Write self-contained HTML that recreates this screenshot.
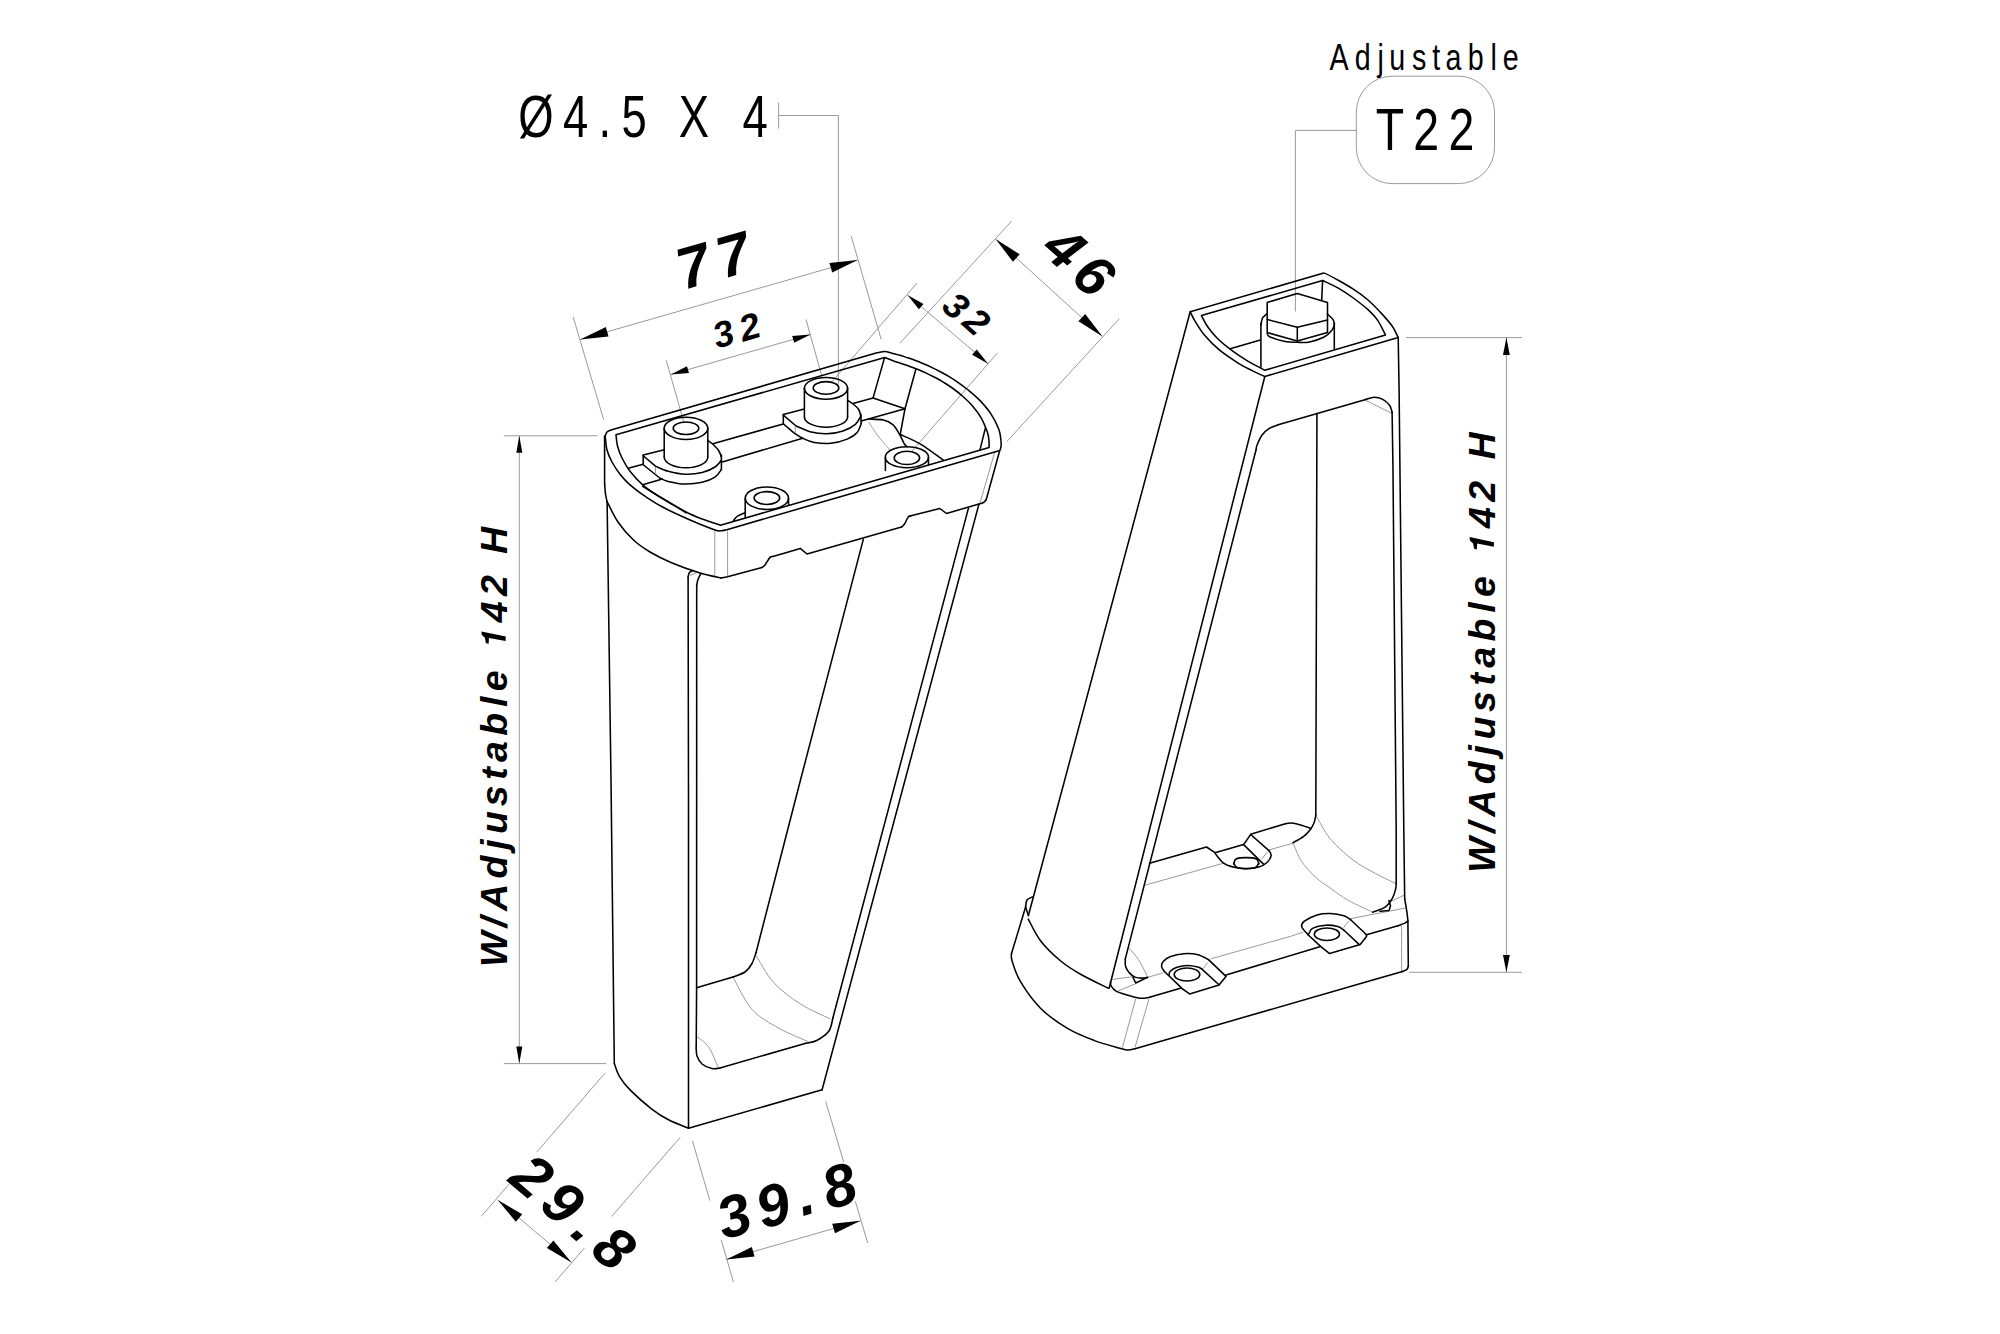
<!DOCTYPE html>
<html><head><meta charset="utf-8"><style>
html,body{margin:0;padding:0;background:#fff;width:2000px;height:1334px;overflow:hidden}
svg{display:block}
text{font-family:"Liberation Sans",sans-serif}
.k{fill:none;stroke:#000;stroke-width:1.55;stroke-linejoin:round;stroke-linecap:round}
.k1{fill:none;stroke:#000;stroke-width:1.5;stroke-linejoin:round;stroke-linecap:round}
.g{fill:none;stroke:#9a9a9a;stroke-width:1}
.f{fill:#000;stroke:none}
.w{fill:#fff;stroke:none}
</style></head><body>
<svg width="2000" height="1334" viewBox="0 0 2000 1334">
<path class="g" d="M994.6,452.6 L980.0,503.0"/>
<path class="g" d="M714.8,531.0 L714.8,576.8"/>
<path class="g" d="M727.6,531.0 L727.6,576.8"/>
<path class="g" d="M689.9,575.7 L696.2,572.8"/>
<path class="g" d="M733.0,977.0 C736.2,982.4 744.3,1000.9 752.0,1009.4 C759.7,1017.9 769.6,1022.9 779.0,1028.3 C788.4,1033.7 803.7,1039.5 808.6,1041.8"/>
<path class="g" d="M756.0,955.4 C758.9,959.9 766.1,974.3 773.5,982.4 C780.9,990.5 791.0,997.9 800.5,1004.0 C810.0,1010.1 825.2,1016.4 830.2,1018.9"/>
<path class="g" d="M696.6,1036.4 C698.6,1038.2 705.2,1042.0 708.8,1047.2 C712.4,1052.4 716.6,1064.1 718.2,1067.5"/>
<path class="g" d="M655.5,466.5 L655.5,473.0"/>
<path class="g" d="M795.2,426.5 L795.2,432.6"/>
<path class="g" d="M868.4,421.8 C870.1,424.3 875.1,432.1 878.7,436.8 C882.3,441.5 888.1,447.8 890.0,450.0"/>
<path class="g" d="M580.2,339.5 L857.7,260.0"/>
<path class="g" d="M573.2,317.0 L603.7,419.8"/>
<path class="g" d="M851.2,236.2 L881.2,339.4"/>
<path class="g" d="M670.7,374.5 L810.5,334.5"/>
<path class="g" d="M666.2,360.2 L683.7,421.7"/>
<path class="g" d="M806.0,319.5 L821.8,376.0"/>
<path class="g" d="M995.6,239.1 L1102.5,336.5"/>
<path class="g" d="M1011.5,221.2 L900.0,343.1"/>
<path class="g" d="M1119.3,318.7 L1006.9,441.5"/>
<path class="g" d="M907.5,294.9 L988.1,363.7"/>
<path class="g" d="M916.9,283.1 L831.5,382.3"/>
<path class="g" d="M997.5,352.9 L911.3,451.8"/>
<path class="g" d="M519.3,435.8 L519.3,1063.6"/>
<path class="g" d="M503.8,435.8 L597.6,435.8"/>
<path class="g" d="M503.8,1063.6 L606.3,1063.6"/>
<path class="g" d="M497.7,1199.9 L571.5,1262.4"/>
<path class="g" d="M605.3,1072.8 L481.3,1216.3"/>
<path class="g" d="M680.1,1137.4 L555.1,1281.9"/>
<path class="g" d="M726.3,1259.4 L860.5,1220.8"/>
<path class="g" d="M692.4,1140.5 L733.4,1281.9"/>
<path class="g" d="M825.7,1101.5 L867.7,1243.0"/>
<path class="g" d="M778.6,102.5 L778.6,128.6"/>
<path class="g" d="M778.6,115.5 L838.4,115.5 L838.4,384.5"/>
<path class="g" d="M1364.8,399.9 L1391.8,413.4"/>
<path class="g" d="M1135.7,998.8 L1122.1,1048.7"/>
<path class="g" d="M1149.0,998.8 L1135.0,1047.3"/>
<path class="g" d="M1143.8,885.5 L1223.6,863.2"/>
<path class="g" d="M1269.2,849.9 L1293.0,843.2"/>
<path class="g" d="M1261.6,859.4 L1267.3,851.8"/>
<path class="g" d="M1293.0,842.7 C1294.4,845.8 1297.7,855.5 1301.5,861.3 C1305.3,867.1 1311.0,873.0 1315.8,877.4 C1320.5,881.8 1324.5,884.0 1330.0,887.9 C1335.5,891.8 1341.4,896.5 1348.5,900.5 C1355.6,904.5 1368.8,910.2 1372.8,912.2"/>
<path class="g" d="M1316.7,816.6 C1318.9,820.2 1324.0,831.3 1330.0,838.5 C1336.0,845.7 1345.4,854.2 1353.0,860.0 C1360.6,865.8 1368.4,869.6 1375.5,873.5 C1382.6,877.4 1392.3,881.8 1395.7,883.4"/>
<path class="g" d="M1210.6,958.9 L1290.0,936.5 L1303.5,932.0"/>
<path class="g" d="M1349.4,918.9 L1405.2,908.1"/>
<path class="g" d="M1389.9,901.8 L1404.3,895.1"/>
<path class="g" d="M1401.6,925.7 L1401.6,971.1"/>
<path class="g" d="M1343.1,928.4 L1348.5,921.2"/>
<path class="g" d="M1111.2,979.5 L1132.9,976.7"/>
<path class="g" d="M1148.3,977.1 L1163.0,972.9"/>
<path class="g" d="M1117.5,991.1 L1136.4,983.4"/>
<path class="g" d="M1202.9,968.7 L1208.1,962.4"/>
<path class="g" d="M1128.0,947.0 C1129.8,949.1 1135.2,954.6 1138.5,959.6 C1141.8,964.6 1146.1,974.2 1147.6,977.1"/>
<path class="g" d="M1506.4,337.6 L1506.4,972.3"/>
<path class="g" d="M1406.0,337.6 L1522.0,337.6"/>
<path class="g" d="M1409.0,972.3 L1522.0,972.3"/>
<path class="g" d="M1295.4,311.5 L1295.4,130.4 L1356.3,130.4"/>
<rect class="g" x="1356.3" y="76.2" width="138.2" height="107.4" rx="36" ry="36"/>
<path class="w" d="M502.3,1177.5 L616.3,1275.0 L643.3,1243.4 L529.3,1145.9 Z"/>
<path class="w" d="M705.9,1201.8 L849.0,1160.6 L860.3,1200.0 L717.2,1241.2 Z"/>
<path class="k" d="M605.2,436.0 C605.5,435.3 606.0,433.0 607.0,432.0 C608.0,431.0 610.3,430.3 611.0,430.0 L877.0,352.8 C878.3,352.6 882.6,351.7 884.7,351.6 C886.8,351.5 887.0,351.8 889.4,352.4 C891.8,353.0 895.9,354.2 899.0,355.1 C902.1,356.0 904.9,356.9 907.8,357.8 C910.6,358.7 913.4,359.7 916.1,360.7 C918.8,361.7 921.4,362.9 924.1,364.0 C926.8,365.1 929.4,366.3 932.1,367.6 C934.8,368.9 937.6,370.3 940.4,371.8 C943.2,373.3 946.1,374.9 949.1,376.7 C952.1,378.5 955.3,380.5 958.6,382.8 C961.9,385.1 965.3,387.6 968.8,390.5 C972.3,393.4 976.2,396.6 979.8,400.4 C983.4,404.2 987.4,408.6 990.6,413.4 C993.8,418.2 997.1,424.9 998.8,429.3 C1000.5,433.7 1000.5,437.1 1000.9,440.0 C1001.3,442.9 1001.2,444.9 1001.0,446.6 C1000.8,448.4 1000.0,449.9 999.8,450.5 L726.0,529.9 C725.2,530.0 722.8,530.7 721.0,530.7 C719.2,530.7 720.2,531.7 715.0,529.9 C709.8,528.1 698.0,523.4 689.5,519.7 C681.0,516.0 671.1,511.5 664.0,507.8 C656.9,504.1 652.7,501.4 647.0,497.6 C641.3,493.8 634.5,488.7 630.0,484.8 C625.5,480.9 623.0,478.0 620.0,474.2 C617.0,470.4 614.2,466.0 612.0,462.0 C609.8,458.0 608.1,454.3 607.0,450.0 C605.9,445.7 605.5,438.3 605.2,436.0"/>
<path class="k" d="M616.0,434.7 L884.7,357.5 C886.2,358.1 890.7,360.0 893.6,361.0 C896.5,362.0 899.2,362.8 901.9,363.7 C904.6,364.6 907.3,365.5 910.0,366.5 C912.7,367.5 915.4,368.4 918.1,369.5 C920.8,370.6 923.5,371.8 926.3,373.1 C929.1,374.4 931.8,375.8 934.7,377.3 C937.6,378.8 940.6,380.4 943.6,382.3 C946.6,384.2 949.8,386.2 953.0,388.5 C956.2,390.8 959.5,393.4 962.7,396.3 C966.0,399.2 969.4,402.4 972.5,406.0 C975.6,409.6 978.8,413.7 981.3,418.1 C983.8,422.5 986.1,428.7 987.4,432.3 C988.7,435.9 988.6,437.4 988.9,440.0 C989.2,442.6 989.1,446.3 989.1,447.6 L720.5,525.2 C718.2,524.4 711.7,522.4 706.5,520.5 C701.3,518.6 695.2,516.4 689.5,513.7 C683.8,511.0 678.2,507.6 672.5,504.4 C666.8,501.1 660.5,497.5 655.5,494.2 C650.5,490.9 647.0,488.6 642.7,484.8 C638.5,481.0 633.5,475.7 630.0,471.2 C626.5,466.7 624.1,462.2 622.0,458.0 C619.9,453.8 618.5,449.9 617.5,446.0 C616.5,442.1 616.2,436.6 616.0,434.7"/>
<path class="k" d="M604.6,436.0 L604.6,483.7"/>
<path class="k" d="M604.6,483.7 C604.8,485.4 605.1,491.0 605.5,494.0 C605.9,497.0 606.8,500.3 607.1,501.6"/>
<path class="k" d="M607.1,501.6 L611.0,780.0 L614.3,1063.4"/>
<path class="k" d="M607.1,501.6 C608.9,505.0 613.6,515.6 618.0,522.0 C622.4,528.4 627.9,534.8 633.2,539.8 C638.5,544.8 643.6,548.2 650.0,552.0 C656.4,555.8 663.2,559.3 671.5,562.8 C679.8,566.3 691.7,570.5 700.0,573.0 C708.3,575.5 717.7,577.2 721.2,578.0"/>
<path class="k" d="M721.2,578.0 L727.6,576.8 L762.0,567.5"/>
<path class="k" d="M762.0,567.5 C762.5,567.1 763.7,566.7 765.0,565.0 C766.3,563.3 768.7,558.8 770.0,557.4 C771.3,556.0 772.5,556.6 773.0,556.4"/>
<path class="k" d="M773.0,556.4 L800.3,548.4 L807.0,554.0 L901.5,527.0"/>
<path class="k" d="M901.5,527.0 C902.0,526.5 903.4,525.7 904.5,524.0 C905.6,522.3 907.2,518.3 908.3,516.9 C909.4,515.5 910.5,516.0 911.0,515.8"/>
<path class="k" d="M911.0,515.8 L939.8,508.5 L946.5,513.5 L979.0,504.0"/>
<path class="k" d="M979.0,504.0 C979.8,503.8 982.3,503.2 983.5,502.5 C984.7,501.8 985.8,500.2 986.2,499.8"/>
<path class="k" d="M986.2,499.8 L999.6,451.0"/>
<path class="k" d="M978.6,505.4 L822.1,1089.8"/>
<path class="k" d="M968.4,508.4 L833.0,1017.5"/>
<path class="k" d="M833.0,1017.5 C832.3,1019.8 831.6,1027.2 828.9,1031.0 C826.2,1034.8 820.5,1038.5 816.7,1040.5 C812.9,1042.5 807.7,1042.8 805.9,1043.2"/>
<path class="k" d="M805.9,1043.2 L720.0,1068.0"/>
<path class="k" d="M720.0,1068.0 C718.7,1068.1 715.0,1069.2 712.0,1068.5 C709.0,1067.8 704.5,1066.1 702.0,1064.0 C699.5,1061.9 698.0,1058.7 697.0,1056.0 C696.0,1053.3 696.3,1049.3 696.2,1048.0"/>
<path class="k" d="M696.2,1048.0 L696.6,987.8"/>
<path class="k" d="M696.7,585.6 L696.6,987.8"/>
<path class="k" d="M696.7,585.6 C696.9,584.6 697.1,581.9 697.8,579.9 C698.5,577.9 700.4,574.6 700.9,573.6"/>
<path class="k" d="M688.1,576.7 C688.3,576.0 688.7,573.5 689.4,572.5 C690.1,571.5 692.0,571.0 692.5,570.7"/>
<path class="k" d="M688.1,576.7 L688.5,800.0 L688.5,1128.2"/>
<path class="k" d="M696.6,987.8 L733.0,977.0"/>
<path class="k" d="M733.0,977.0 C735.0,976.2 741.8,974.2 745.0,972.0 C748.2,969.8 750.2,966.7 752.0,963.5 C753.8,960.3 755.3,954.5 756.0,952.7"/>
<path class="k" d="M756.0,952.7 L800.5,780.0 L863.3,539.4"/>
<path class="k" d="M688.5,1128.2 L822.1,1089.8"/>
<path class="k" d="M614.3,1063.4 C615.2,1065.7 617.0,1072.4 619.7,1076.9 C622.4,1081.4 625.1,1085.0 630.5,1090.4 C635.9,1095.8 645.9,1104.5 652.1,1109.3 C658.4,1114.1 661.9,1116.3 668.0,1119.5 C674.1,1122.7 685.1,1126.8 688.5,1128.2"/>
<ellipse class="k" cx="686.0" cy="428.3" rx="21.8" ry="11.1"/>
<ellipse class="k" cx="686.0" cy="428.3" rx="12.8" ry="6.2"/>
<path class="k" d="M664.2,428.3 L664.2,457.0"/>
<path class="k" d="M707.8,428.3 L707.8,457.0"/>
<path class="k" d="M664.2,457.0 A21.8,10.8 0 0 0 707.8,457.0"/>
<path class="k" d="M643.2,455.1 L664.4,449.8"/>
<path class="k" d="M643.2,455.1 L643.2,464.5"/>
<path class="k" d="M643.5,456.0 L655.5,466.1 C657.6,467.0 663.2,469.9 668.2,471.2 C673.2,472.5 679.5,474.0 685.2,474.2 C690.9,474.4 697.2,473.7 702.2,472.5 C707.2,471.3 711.8,469.1 715.0,467.0 C718.2,464.9 720.3,461.3 721.4,460.2"/>
<path class="k" d="M707.7,440.5 C708.7,441.2 711.8,443.2 713.7,445.0 C715.6,446.8 717.6,449.0 718.9,451.0 C720.2,453.0 721.0,456.0 721.4,457.0"/>
<path class="k" d="M721.4,455.1 L721.4,469.5"/>
<path class="k" d="M643.5,465.0 L659.7,478.0 C661.1,478.6 664.0,480.4 668.2,481.4 C672.5,482.4 679.5,483.9 685.2,484.0 C690.9,484.1 697.2,483.4 702.2,482.3 C707.2,481.2 711.8,479.3 715.0,477.2 C718.2,475.1 720.3,470.8 721.4,469.5"/>
<path class="k" d="M628.2,468.2 L643.2,464.3"/>
<path class="k" d="M642.7,484.8 L662.3,478.9"/>
<path class="k" d="M642.7,486.3 L660.0,497.0 L681.0,509.5 L686.1,512.9"/>
<path class="k" d="M713.7,443.5 L783.3,423.9"/>
<path class="k" d="M721.4,462.2 L802.7,438.3"/>
<ellipse class="k" cx="826.0" cy="388.3" rx="21.6" ry="10.9"/>
<ellipse class="k" cx="826.0" cy="387.9" rx="12.8" ry="6.3"/>
<path class="k" d="M804.4,388.3 L804.4,416.9"/>
<path class="k" d="M847.6,388.3 L847.6,416.9"/>
<path class="k" d="M804.4,416.9 A21.6,10.3 0 0 0 847.6,416.9"/>
<path class="k" d="M783.3,414.4 L804.3,409.1"/>
<path class="k" d="M783.3,414.4 L783.3,423.5"/>
<path class="k" d="M783.6,415.3 L796.1,426.0 C798.4,426.9 804.9,430.4 810.0,431.7 C815.1,433.0 821.1,433.9 826.6,433.8 C832.1,433.7 838.2,432.5 843.0,430.9 C847.8,429.3 852.4,426.8 855.4,424.3 C858.4,421.8 859.9,417.5 860.8,416.1"/>
<path class="k" d="M847.6,400.4 C848.6,401.1 851.9,403.0 853.8,404.5 C855.6,406.0 857.5,407.6 858.7,409.5 C859.9,411.4 860.4,415.0 860.8,416.1"/>
<path class="k" d="M860.8,414.0 L861.2,423.5"/>
<path class="k" d="M783.6,424.0 L793.6,432.6 C795.1,433.6 799.3,436.7 802.7,438.3 C806.1,439.9 809.5,441.6 814.2,442.4 C818.9,443.2 825.2,443.9 830.7,443.3 C836.2,442.8 842.8,440.9 847.2,439.1 C851.6,437.3 854.8,435.2 857.1,432.6 C859.4,430.0 860.5,425.0 861.2,423.5"/>
<path class="k" d="M853.8,403.3 L873.1,397.9 L905.0,408.7"/>
<path class="k" d="M861.2,421.0 L905.0,408.7"/>
<path class="k" d="M884.4,358.1 L873.1,397.9"/>
<path class="k" d="M915.9,369.0 L905.0,408.7 L900.3,434.0"/>
<path class="k" d="M868.4,419.0 C870.9,419.2 879.3,419.1 883.4,420.0 C887.5,420.9 890.1,422.3 892.8,424.6 C895.5,426.9 897.5,430.9 899.4,434.0 C901.3,437.1 902.8,441.3 904.0,443.4 C905.2,445.5 906.3,446.1 906.8,446.7"/>
<path class="k" d="M900.3,434.5 C903.7,436.1 913.7,440.0 920.9,444.3 C928.1,448.6 939.6,457.6 943.4,460.2"/>
<path class="k" d="M985.3,428.4 L979.9,450.1"/>
<ellipse class="k" cx="906.9" cy="457.2" rx="21.6" ry="10.5"/>
<ellipse class="k" cx="906.9" cy="457.9" rx="12.7" ry="6.6"/>
<path class="k" d="M885.4,457.4 L885.4,470.5"/>
<path class="k" d="M928.5,457.4 L928.5,465.0"/>
<ellipse class="k" cx="766.9" cy="498.2" rx="21.6" ry="11.2"/>
<ellipse class="k" cx="766.9" cy="498.0" rx="12.8" ry="6.4"/>
<path class="k" d="M745.2,498.4 L745.2,517.6"/>
<path class="k" d="M788.5,498.4 L788.5,505.2"/>
<path class="k" d="M733.3,521.0 C733.9,520.2 735.1,517.9 737.0,516.5 C738.9,515.1 743.4,513.5 744.7,512.9"/>
<path class="f" d="M580.2,339.5 L608.5,336.6 L605.8,327.0 Z"/>
<path class="f" d="M857.7,260.0 L829.4,262.9 L832.2,272.5 Z"/>
<path class="f" d="M670.7,374.5 L689.0,372.9 L687.0,366.2 Z"/>
<path class="f" d="M810.5,334.5 L792.2,336.1 L794.2,342.8 Z"/>
<path class="f" d="M995.6,239.1 L1012.9,261.7 L1019.7,254.3 Z"/>
<path class="f" d="M1102.5,336.5 L1085.2,313.9 L1078.4,321.3 Z"/>
<path class="f" d="M907.5,294.9 L918.9,309.2 L923.5,303.9 Z"/>
<path class="f" d="M988.1,363.7 L976.7,349.4 L972.1,354.7 Z"/>
<path class="f" d="M519.3,435.8 L516.3,452.8 L522.3,452.8 Z"/>
<path class="f" d="M519.3,1063.6 L522.3,1046.6 L516.3,1046.6 Z"/>
<path class="f" d="M497.7,1199.9 L515.8,1221.8 L522.3,1214.2 Z"/>
<path class="f" d="M571.5,1262.4 L553.4,1240.5 L546.9,1248.1 Z"/>
<path class="f" d="M726.3,1259.4 L754.6,1256.5 L751.8,1246.9 Z"/>
<path class="f" d="M860.5,1220.8 L832.2,1223.7 L835.0,1233.3 Z"/>
<path class="k" d="M1190.2,311.7 L1322.0,273.6 C1322.5,273.6 1322.2,272.2 1325.0,273.4 C1327.8,274.5 1334.0,277.9 1338.7,280.5 C1343.4,283.1 1348.4,285.9 1353.3,289.2 C1358.2,292.4 1363.1,295.8 1368.0,300.0 C1372.9,304.2 1378.5,310.2 1382.6,314.6 C1386.6,319.0 1389.7,322.5 1392.3,326.3 C1394.9,330.1 1397.2,335.6 1398.2,337.5 L1264.8,376.5 C1262.8,375.6 1257.5,373.3 1253.1,371.1 C1248.7,368.9 1244.2,366.9 1238.5,363.3 C1232.8,359.7 1224.7,354.4 1219.0,349.7 C1213.3,345.0 1208.5,340.0 1204.4,335.1 C1200.3,330.2 1197.0,324.3 1194.6,320.4 C1192.2,316.5 1190.9,313.1 1190.2,311.7"/>
<path class="k" d="M1201.4,315.6 L1322.6,280.5 C1325.3,281.8 1333.6,285.4 1338.7,288.3 C1343.8,291.2 1348.4,294.4 1353.3,298.0 C1358.2,301.6 1363.9,306.0 1368.0,309.7 C1372.1,313.4 1374.8,316.2 1377.7,320.4 C1380.6,324.6 1384.2,332.6 1385.5,335.0 L1264.8,370.2 C1262.0,368.7 1253.9,364.8 1248.2,361.4 C1242.5,358.0 1235.9,353.6 1230.7,349.7 C1225.5,345.8 1220.9,341.9 1217.0,338.0 C1213.1,334.1 1209.9,330.0 1207.3,326.3 C1204.7,322.6 1202.4,317.4 1201.4,315.6"/>
<path class="k" d="M1322.6,280.5 L1321.7,300.0"/>
<path class="k" d="M1230.2,348.7 L1260.4,339.9"/>
<path class="k" d="M1260.9,323.4 L1260.9,367.2"/>
<path class="k" d="M1334.3,323.3 L1334.3,349.2"/>
<path class="k" d="M1260.9,325.0 C1261.2,323.8 1261.5,319.9 1262.5,318.0 C1263.5,316.1 1266.4,314.3 1267.2,313.6"/>
<path class="k" d="M1327.5,314.1 C1328.4,315.0 1331.8,317.7 1332.9,319.4 C1334.0,321.1 1334.5,322.5 1334.3,324.3 C1334.1,326.1 1333.6,328.1 1331.9,330.2 C1330.2,332.3 1327.8,335.1 1324.1,337.0 C1320.4,338.9 1314.0,341.0 1309.5,341.9 C1305.0,342.8 1301.4,342.4 1297.3,342.3 C1293.2,342.2 1289.5,342.4 1285.0,341.5 C1280.5,340.6 1273.0,338.3 1270.0,337.0 C1267.0,335.7 1267.7,334.1 1267.2,333.5"/>
<path class="k" d="M1267.2,302.4 L1297.3,293.6 L1327.5,302.4 L1327.5,319.9 L1297.3,327.2 L1267.2,319.5 L1267.2,302.4"/>
<path class="k" d="M1267.2,319.5 L1267.2,332.6 L1297.3,340.9 L1327.5,332.6 L1327.5,319.9"/>
<path class="k" d="M1297.3,327.2 L1297.3,340.9"/>
<path class="k" d="M1190.2,311.7 L1028.4,915.5"/>
<path class="k" d="M1264.8,376.5 L1109.2,988.0"/>
<path class="k" d="M1398.2,337.5 L1399.1,390.0 L1403.8,830.0 L1404.7,898.7"/>
<path class="k" d="M1404.7,898.7 C1404.9,900.1 1405.6,903.9 1406.1,906.8 C1406.5,909.6 1407.1,913.4 1407.4,915.8 C1407.7,918.2 1407.8,920.3 1407.9,921.2"/>
<path class="k" d="M1256.0,450.0 C1256.2,449.2 1256.0,447.7 1257.0,445.2 C1258.0,442.7 1260.0,437.8 1262.1,435.0 C1264.2,432.2 1267.0,429.9 1269.7,428.2 C1272.4,426.5 1276.8,425.4 1278.2,424.8"/>
<path class="k" d="M1278.2,424.8 L1365.8,399.4"/>
<path class="k" d="M1365.8,399.4 C1367.2,399.0 1371.5,397.2 1374.3,397.2 C1377.1,397.2 1380.2,398.0 1382.8,399.4 C1385.3,400.8 1388.0,403.2 1389.6,405.3 C1391.1,407.4 1391.7,411.0 1392.1,412.1"/>
<path class="k" d="M1392.1,412.1 L1393.0,470.0 L1396.2,830.0 L1396.2,883.4"/>
<path class="k" d="M1396.2,883.4 C1396.1,884.3 1396.3,886.4 1395.7,888.8 C1395.1,891.2 1394.3,894.8 1392.6,897.8 C1390.9,900.8 1388.7,904.4 1385.4,906.8 C1382.1,909.2 1374.9,911.3 1372.8,912.2"/>
<path class="k" d="M1256.0,450.0 L1125.3,958.9"/>
<path class="k" d="M1125.3,958.9 C1125.3,960.2 1124.9,964.3 1125.6,966.6 C1126.3,968.9 1127.8,971.1 1129.4,972.9 C1131.0,974.6 1132.9,976.2 1135.0,977.1 C1137.1,978.0 1139.9,978.1 1142.0,978.1 C1144.1,978.1 1146.7,977.5 1147.6,977.4"/>
<path class="k" d="M1132.9,977.1 L1135.7,983.0 L1147.6,977.4"/>
<path class="k" d="M1389.0,900.5 L1390.5,906.0 L1389.0,910.4 L1380.0,911.3"/>
<path class="k" d="M1316.9,413.4 L1316.9,430.0 L1315.8,815.7"/>
<path class="k" d="M1028.4,915.5 L1025.6,907.0"/>
<path class="k" d="M1025.6,907.0 C1025.8,905.8 1025.9,901.7 1027.0,900.0 C1028.1,898.3 1031.5,897.4 1032.4,896.9"/>
<path class="k" d="M1025.6,907.0 L1011.5,953.5"/>
<path class="k" d="M1011.5,953.5 C1011.6,954.8 1010.6,956.4 1012.1,961.0 C1013.6,965.6 1015.5,973.3 1020.2,981.2 C1024.9,989.1 1032.6,1000.3 1040.5,1008.2 C1048.4,1016.1 1058.5,1023.0 1067.5,1028.4 C1076.5,1033.8 1085.5,1037.2 1094.5,1040.6 C1103.5,1044.0 1115.9,1047.1 1121.5,1048.7 C1127.1,1050.3 1126.0,1050.0 1128.2,1050.0 C1130.5,1050.0 1133.9,1048.9 1135.0,1048.7"/>
<path class="k" d="M1135.0,1048.7 L1372.8,980.0 L1402.5,971.6"/>
<path class="k" d="M1402.5,971.6 C1403.2,971.2 1406.0,970.2 1407.0,969.3 C1408.0,968.4 1408.1,966.7 1408.3,966.2"/>
<path class="k" d="M1408.3,966.2 L1407.9,921.2"/>
<path class="k" d="M1407.9,921.2 C1407.3,921.6 1406.0,922.6 1404.3,923.4 C1402.6,924.1 1399.0,925.3 1398.0,925.7"/>
<path class="k" d="M1398.0,925.7 L1366.5,934.7"/>
<path class="k" d="M1320.6,946.4 L1226.0,975.0"/>
<path class="k" d="M1028.3,919.1 C1030.3,922.7 1035.1,933.7 1040.5,940.7 C1045.9,947.7 1054.0,955.4 1060.7,961.0 C1067.5,966.6 1073.0,970.0 1081.0,974.5 C1089.0,979.0 1103.8,986.0 1108.4,988.3"/>
<path class="k" d="M1110.5,982.0 C1110.6,982.7 1110.3,984.7 1111.2,986.2 C1112.1,987.7 1113.3,989.6 1116.1,991.1 C1118.9,992.6 1124.3,994.1 1128.0,995.3 C1131.7,996.5 1135.6,997.6 1138.5,998.1 C1141.4,998.6 1143.5,998.3 1145.5,998.1 C1147.5,997.9 1149.6,997.2 1150.4,997.0"/>
<path class="k" d="M1150.4,997.0 L1181.2,988.0"/>
<path class="k" d="M1149.5,863.2 L1206.5,847.0 L1215.0,852.7 L1243.6,844.6"/>
<path class="k" d="M1250.7,834.2 L1285.4,823.7"/>
<path class="k" d="M1285.4,823.7 C1286.5,823.6 1289.3,822.9 1292.0,823.1 C1294.7,823.4 1298.3,824.3 1301.5,825.2 C1304.7,826.1 1309.4,828.0 1311.0,828.5"/>
<path class="k" d="M1315.8,815.7 C1315.5,817.0 1314.9,820.9 1313.9,823.3 C1312.9,825.7 1311.8,827.7 1310.0,829.9 C1308.2,832.1 1306.2,834.5 1303.4,836.6 C1300.6,838.7 1294.7,841.7 1293.0,842.7"/>
<path class="k" d="M1215.0,853.2 C1216.4,854.9 1220.6,860.9 1223.6,863.2 C1226.6,865.5 1229.4,866.1 1233.1,867.0 C1236.8,867.9 1241.2,868.7 1245.5,868.7 C1249.8,868.7 1255.2,868.1 1258.8,867.0 C1262.4,865.9 1265.2,864.1 1267.3,862.2 C1269.3,860.3 1270.8,857.5 1271.1,855.6 C1271.4,853.7 1269.5,851.6 1269.2,850.8"/>
<path class="k" d="M1269.2,850.8 L1250.7,834.5 L1243.6,844.6 L1263.5,864.1"/>
<path class="k" d="M1233.8,864.0 C1234.2,863.2 1233.9,860.1 1236.0,859.0 C1238.1,857.9 1242.8,857.6 1246.2,857.6 C1249.6,857.6 1254.4,857.9 1256.5,859.0 C1258.6,860.1 1258.4,863.2 1258.8,864.0"/>
<path class="k" d="M1233.6,863.1 C1234.2,863.8 1234.9,866.6 1237.0,867.5 C1239.1,868.4 1243.1,868.6 1246.2,868.6 C1249.3,868.6 1253.4,868.4 1255.5,867.5 C1257.6,866.6 1258.2,863.8 1258.8,863.1"/>
<path class="k" d="M1366.5,934.7 L1366.5,936.5 L1360.2,944.6 L1329.6,953.6 L1320.6,946.4 L1308.0,934.7"/>
<path class="k" d="M1308.0,934.7 C1307.0,933.4 1302.3,928.9 1301.7,926.6 C1301.1,924.4 1301.9,923.2 1304.4,921.2 C1307.0,919.2 1312.7,916.2 1317.0,914.9 C1321.3,913.6 1326.0,913.4 1330.5,913.5 C1335.0,913.6 1340.5,914.7 1344.0,915.8 C1347.5,916.9 1350.0,919.5 1351.2,920.3"/>
<path class="k" d="M1351.2,920.3 L1366.5,934.7"/>
<path class="k" d="M1308.9,933.8 C1309.5,932.9 1309.7,929.8 1312.5,928.4 C1315.3,927.0 1321.8,925.5 1326.0,925.2 C1330.2,924.9 1334.7,925.8 1337.7,926.6 C1340.7,927.4 1343.0,929.6 1344.0,930.2"/>
<path class="k" d="M1344.0,930.2 L1359.3,944.6"/>
<ellipse class="k" cx="1326.9" cy="934.2" rx="12.6" ry="6.3"/>
<path class="k" d="M1181.2,988.0 L1189.6,993.9 L1219.0,985.1 L1226.0,976.4 L1208.5,959.6"/>
<path class="k" d="M1208.5,959.6 C1206.8,958.8 1202.1,955.7 1198.0,954.7 C1193.9,953.7 1188.7,953.4 1184.0,953.7 C1179.3,954.1 1173.5,955.5 1170.0,956.8 C1166.5,958.1 1164.4,960.1 1163.0,961.7 C1161.6,963.3 1161.4,965.0 1161.6,966.6 C1161.8,968.2 1163.9,970.7 1164.4,971.5"/>
<path class="k" d="M1164.4,971.5 L1181.2,987.6"/>
<path class="k" d="M1169.3,975.0 C1169.4,974.4 1168.7,972.8 1170.0,971.5 C1171.3,970.2 1174.1,968.3 1177.0,967.3 C1179.9,966.3 1184.0,965.5 1187.5,965.5 C1191.0,965.5 1195.5,966.4 1198.0,967.0 C1200.5,967.6 1201.5,969.0 1202.2,969.4"/>
<path class="k" d="M1202.2,969.4 L1219.0,984.8"/>
<ellipse class="k" cx="1187.0" cy="974.5" rx="12.8" ry="6.5"/>
<path class="f" d="M1506.4,337.6 L1503.0,354.9 L1509.8,354.9 Z"/>
<path class="f" d="M1506.4,972.3 L1509.8,955.0 L1503.0,955.0 Z"/>
<path class="f" d="M1469.66,537.10 L1493.95,542.20 L1493.85,546.80 L1477.15,543.60 L1476.85,549.50 L1474.10,548.85 L1473.10,543.40 L1469.86,540.55 Z"/>
<path class="f" d="M481.46,631.40 L505.75,636.50 L505.65,641.10 L488.95,637.90 L488.65,643.80 L485.90,643.15 L484.90,637.70 L481.66,634.85 Z"/>
<text transform="translate(518.13 137.20) scale(0.770 1)" font-size="59.0" font-weight="normal" font-style="normal">Ø</text>
<text transform="translate(563.03 137.20) scale(0.770 1)" font-size="59.0" font-weight="normal" font-style="normal">4</text>
<text transform="translate(598.51 137.20) scale(0.770 1)" font-size="59.0" font-weight="normal" font-style="normal">.</text>
<text transform="translate(621.44 137.20) scale(0.770 1)" font-size="59.0" font-weight="normal" font-style="normal">5</text>
<text transform="translate(678.83 137.20) scale(0.770 1)" font-size="59.0" font-weight="normal" font-style="normal">X</text>
<text transform="translate(742.53 137.20) scale(0.770 1)" font-size="59.0" font-weight="normal" font-style="normal">4</text>
<text transform="translate(1329.56 70.10) scale(0.770 1)" font-size="37.2" font-weight="normal" font-style="normal">A</text>
<text transform="translate(1354.87 70.10) scale(0.770 1)" font-size="37.2" font-weight="normal" font-style="normal">d</text>
<text transform="translate(1377.44 70.10) scale(0.770 1)" font-size="37.2" font-weight="normal" font-style="normal">j</text>
<text transform="translate(1389.27 70.10) scale(0.770 1)" font-size="37.2" font-weight="normal" font-style="normal">u</text>
<text transform="translate(1411.97 70.10) scale(0.770 1)" font-size="37.2" font-weight="normal" font-style="normal">s</text>
<text transform="translate(1432.22 70.10) scale(0.770 1)" font-size="37.2" font-weight="normal" font-style="normal">t</text>
<text transform="translate(1445.55 70.10) scale(0.770 1)" font-size="37.2" font-weight="normal" font-style="normal">a</text>
<text transform="translate(1467.82 70.10) scale(0.770 1)" font-size="37.2" font-weight="normal" font-style="normal">b</text>
<text transform="translate(1490.43 70.10) scale(0.770 1)" font-size="37.2" font-weight="normal" font-style="normal">l</text>
<text transform="translate(1502.78 70.10) scale(0.770 1)" font-size="37.2" font-weight="normal" font-style="normal">e</text>
<text transform="translate(1375.84 150.00) scale(0.780 1)" font-size="59.6" font-weight="normal" font-style="normal">T</text>
<text transform="translate(1413.30 150.00) scale(0.780 1)" font-size="59.6" font-weight="normal" font-style="normal">2</text>
<text transform="translate(1448.60 150.00) scale(0.780 1)" font-size="59.6" font-weight="normal" font-style="normal">2</text>
<text transform="translate(696.50 265.30) rotate(-16.00) scale(1.000 1) translate(-19.42 20.15)" font-size="58.5" font-weight="bold" font-style="italic">7</text>
<text transform="translate(736.40 254.10) rotate(-16.00) scale(1.000 1) translate(-19.42 20.15)" font-size="58.5" font-weight="bold" font-style="italic">7</text>
<text transform="translate(723.10 333.90) rotate(-16.00) scale(1.000 1) translate(-10.07 12.57)" font-size="36.5" font-weight="bold" font-style="italic">3</text>
<text transform="translate(749.00 326.80) rotate(-16.00) scale(1.000 1) translate(-9.65 12.76)" font-size="36.5" font-weight="bold" font-style="italic">2</text>
<text transform="translate(1063.90 246.90) rotate(41.50) scale(1.000 1) translate(-14.88 19.64)" font-size="57.0" font-weight="bold" font-style="italic">4</text>
<text transform="translate(1095.00 275.90) rotate(41.50) scale(1.000 1) translate(-17.27 19.64)" font-size="57.0" font-weight="bold" font-style="italic">6</text>
<text transform="translate(956.10 305.70) rotate(41.50) scale(1.000 1) translate(-10.07 12.57)" font-size="36.5" font-weight="bold" font-style="italic">3</text>
<text transform="translate(976.50 321.00) rotate(41.50) scale(1.000 1) translate(-9.65 12.76)" font-size="36.5" font-weight="bold" font-style="italic">2</text>
<text transform="translate(531.90 1175.50) rotate(40.30) scale(1.000 1) translate(-15.47 20.45)" font-size="58.5" font-weight="bold" font-style="italic">2</text>
<text transform="translate(563.30 1203.00) rotate(40.30) scale(1.000 1) translate(-16.82 20.15)" font-size="58.5" font-weight="bold" font-style="italic">9</text>
<text transform="translate(576.70 1235.80) rotate(40.30) scale(1.000 1) translate(-6.26 4.39)" font-size="58.5" font-weight="bold" font-style="italic">.</text>
<text transform="translate(614.50 1248.10) rotate(40.30) scale(1.000 1) translate(-16.58 20.15)" font-size="58.5" font-weight="bold" font-style="italic">8</text>
<text transform="translate(733.90 1215.80) rotate(-16.00) scale(1.000 1) translate(-16.28 20.33)" font-size="59.0" font-weight="bold" font-style="italic">3</text>
<text transform="translate(773.40 1205.00) rotate(-16.00) scale(1.000 1) translate(-16.96 20.33)" font-size="59.0" font-weight="bold" font-style="italic">9</text>
<text transform="translate(807.20 1210.20) rotate(-16.00) scale(1.000 1) translate(-6.31 4.42)" font-size="59.0" font-weight="bold" font-style="italic">.</text>
<text transform="translate(839.60 1185.50) rotate(-16.00) scale(1.000 1) translate(-16.73 20.33)" font-size="59.0" font-weight="bold" font-style="italic">8</text>
<text transform="translate(507.10 553.91) rotate(-90.00) scale(1.000 1)" font-size="37.6" font-weight="bold" font-style="italic">H</text>
<text transform="translate(507.10 595.95) rotate(-90.00) scale(1.000 1)" font-size="37.6" font-weight="bold" font-style="italic">2</text>
<text transform="translate(507.10 622.21) rotate(-90.00) scale(1.000 1)" font-size="37.6" font-weight="bold" font-style="italic">4</text>
<text transform="translate(507.10 691.29) rotate(-90.00) scale(1.000 1)" font-size="37.6" font-weight="bold" font-style="italic">e</text>
<text transform="translate(507.10 707.05) rotate(-90.00) scale(1.000 1)" font-size="37.6" font-weight="bold" font-style="italic">l</text>
<text transform="translate(507.10 735.74) rotate(-90.00) scale(1.000 1)" font-size="37.6" font-weight="bold" font-style="italic">b</text>
<text transform="translate(507.10 761.98) rotate(-90.00) scale(1.000 1)" font-size="37.6" font-weight="bold" font-style="italic">a</text>
<text transform="translate(507.10 779.87) rotate(-90.00) scale(1.000 1)" font-size="37.6" font-weight="bold" font-style="italic">t</text>
<text transform="translate(507.10 806.20) rotate(-90.00) scale(1.000 1)" font-size="37.6" font-weight="bold" font-style="italic">s</text>
<text transform="translate(507.10 833.92) rotate(-90.00) scale(1.000 1)" font-size="37.6" font-weight="bold" font-style="italic">u</text>
<text transform="translate(507.10 849.72) rotate(-90.00) scale(1.000 1)" font-size="37.6" font-weight="bold" font-style="italic">j</text>
<text transform="translate(507.10 878.61) rotate(-90.00) scale(1.000 1)" font-size="37.6" font-weight="bold" font-style="italic">d</text>
<text transform="translate(507.10 911.03) rotate(-90.00) scale(1.000 1)" font-size="37.6" font-weight="bold" font-style="italic">A</text>
<text transform="translate(507.10 927.17) rotate(-90.00) scale(1.000 1)" font-size="37.6" font-weight="bold" font-style="italic">/</text>
<text transform="translate(507.10 967.04) rotate(-90.00) scale(1.000 1)" font-size="37.6" font-weight="bold" font-style="italic">W</text>
<text transform="translate(1495.30 459.61) rotate(-90.00) scale(1.000 1)" font-size="37.6" font-weight="bold" font-style="italic">H</text>
<text transform="translate(1495.30 501.65) rotate(-90.00) scale(1.000 1)" font-size="37.6" font-weight="bold" font-style="italic">2</text>
<text transform="translate(1495.30 527.91) rotate(-90.00) scale(1.000 1)" font-size="37.6" font-weight="bold" font-style="italic">4</text>
<text transform="translate(1495.30 596.99) rotate(-90.00) scale(1.000 1)" font-size="37.6" font-weight="bold" font-style="italic">e</text>
<text transform="translate(1495.30 612.75) rotate(-90.00) scale(1.000 1)" font-size="37.6" font-weight="bold" font-style="italic">l</text>
<text transform="translate(1495.30 641.44) rotate(-90.00) scale(1.000 1)" font-size="37.6" font-weight="bold" font-style="italic">b</text>
<text transform="translate(1495.30 667.68) rotate(-90.00) scale(1.000 1)" font-size="37.6" font-weight="bold" font-style="italic">a</text>
<text transform="translate(1495.30 685.57) rotate(-90.00) scale(1.000 1)" font-size="37.6" font-weight="bold" font-style="italic">t</text>
<text transform="translate(1495.30 711.90) rotate(-90.00) scale(1.000 1)" font-size="37.6" font-weight="bold" font-style="italic">s</text>
<text transform="translate(1495.30 739.62) rotate(-90.00) scale(1.000 1)" font-size="37.6" font-weight="bold" font-style="italic">u</text>
<text transform="translate(1495.30 755.42) rotate(-90.00) scale(1.000 1)" font-size="37.6" font-weight="bold" font-style="italic">j</text>
<text transform="translate(1495.30 784.31) rotate(-90.00) scale(1.000 1)" font-size="37.6" font-weight="bold" font-style="italic">d</text>
<text transform="translate(1495.30 816.73) rotate(-90.00) scale(1.000 1)" font-size="37.6" font-weight="bold" font-style="italic">A</text>
<text transform="translate(1495.30 832.87) rotate(-90.00) scale(1.000 1)" font-size="37.6" font-weight="bold" font-style="italic">/</text>
<text transform="translate(1495.30 872.74) rotate(-90.00) scale(1.000 1)" font-size="37.6" font-weight="bold" font-style="italic">W</text>
</svg></body></html>
